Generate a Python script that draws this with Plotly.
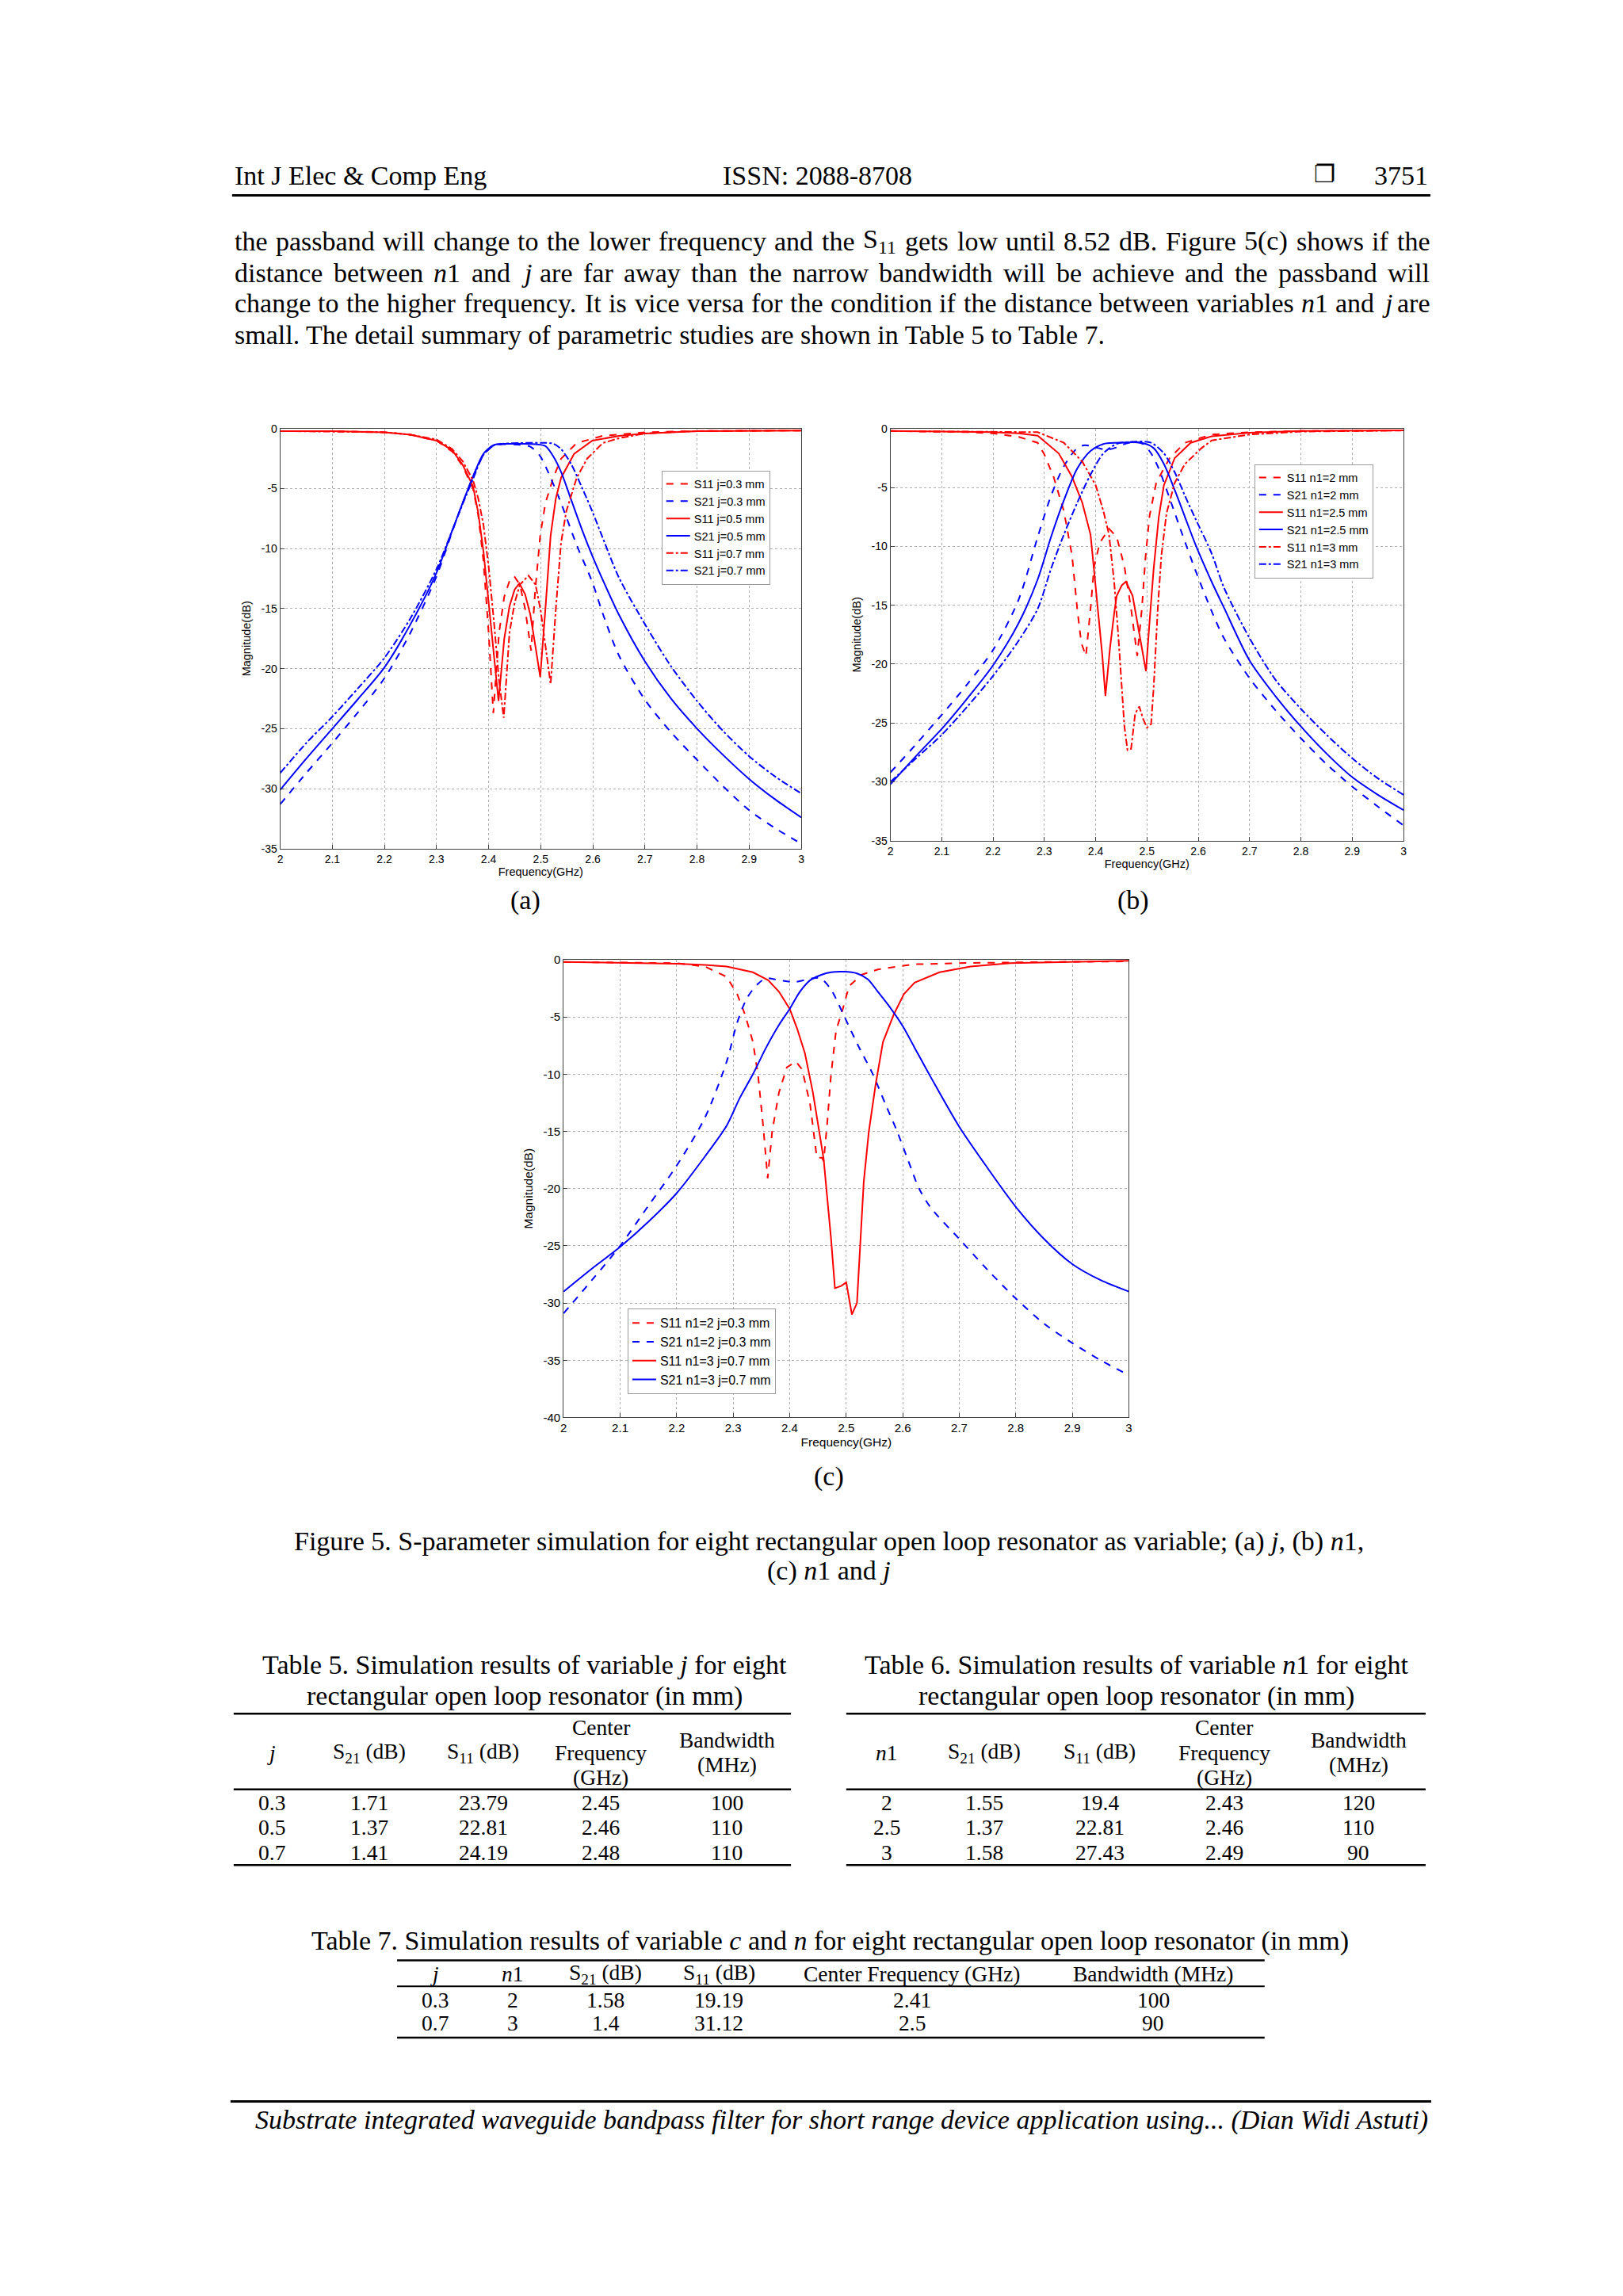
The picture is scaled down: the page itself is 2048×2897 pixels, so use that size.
import re
import plotly.graph_objects as go

W, H = 2048, 2897
SERIF = "Liberation Serif"
SANS = "Liberation Sans"

# ---------------- data: panel (a), variable j ----------------
A_S11_J03_F = [2.0, 2.1, 2.2, 2.25, 2.3, 2.33, 2.35, 2.37, 2.38, 2.39, 2.40, 2.409, 2.42, 2.43, 2.44, 2.449, 2.46, 2.47, 2.4815, 2.489, 2.499, 2.509, 2.524, 2.539, 2.569, 2.619, 2.7, 2.8, 3.0]
A_S11_J03_DB = [-0.2, -0.2, -0.3, -0.5, -1.0, -1.9, -3.1, -5.0, -7.2, -11.0, -17.0, -23.7, -17.0, -14.0, -12.7, -12.3, -13.0, -15.0, -18.5, -13.7, -8.9, -6.2, -4.1, -2.5, -1.2, -0.6, -0.3, -0.2, -0.15]

A_S11_J05_F = [2.0, 2.1, 2.2, 2.25, 2.3, 2.33, 2.35, 2.37, 2.38, 2.39, 2.40, 2.41, 2.419, 2.43, 2.44, 2.45, 2.459, 2.47, 2.48, 2.49, 2.499, 2.509, 2.519, 2.529, 2.539, 2.564, 2.599, 2.65, 2.7, 2.8, 3.0]
A_S11_J05_DB = [-0.2, -0.2, -0.3, -0.5, -1.0, -1.8, -3.0, -4.8, -7.0, -10.2, -14.5, -19.0, -22.7, -17.5, -14.8, -13.4, -12.9, -13.8, -15.5, -18.2, -20.7, -15.0, -8.9, -5.8, -4.1, -2.1, -1.0, -0.6, -0.4, -0.2, -0.15]

A_S11_J07_F = [2.0, 2.2, 2.25, 2.3, 2.33, 2.35, 2.37, 2.38, 2.39, 2.40, 2.41, 2.42, 2.429, 2.44, 2.45, 2.46, 2.4765, 2.49, 2.50, 2.51, 2.519, 2.529, 2.539, 2.549, 2.569, 2.589, 2.619, 2.65, 2.7, 2.8, 3.0]
A_S11_J07_DB = [-0.2, -0.3, -0.5, -0.9, -1.7, -2.7, -4.3, -5.8, -8.0, -11.5, -16.0, -21.0, -24.1, -17.0, -14.5, -13.0, -12.25, -13.0, -15.2, -18.5, -21.3, -15.0, -9.5, -6.9, -4.1, -2.5, -1.2, -0.8, -0.4, -0.2, -0.15]

A_S21_J03_F = [2.0, 2.05, 2.1, 2.15, 2.2, 2.25, 2.3, 2.33, 2.35, 2.37, 2.39, 2.41, 2.43, 2.46, 2.48, 2.499, 2.519, 2.539, 2.569, 2.599, 2.619, 2.65, 2.7, 2.75, 2.8, 2.85, 2.9, 2.95, 3.0]
A_S21_J03_DB = [-31.3, -28.7, -26.2, -23.6, -20.8, -17.0, -12.3, -8.6, -6.2, -4.0, -2.2, -1.4, -1.3, -1.35, -1.5, -2.3, -4.1, -6.2, -9.7, -12.8, -15.4, -18.9, -22.6, -25.3, -27.6, -29.8, -31.8, -33.3, -34.6]

A_S21_J05_F = [2.0, 2.05, 2.1, 2.15, 2.2, 2.25, 2.3, 2.33, 2.35, 2.37, 2.39, 2.41, 2.43, 2.46, 2.49, 2.509, 2.524, 2.539, 2.559, 2.579, 2.599, 2.619, 2.65, 2.7, 2.75, 2.8, 2.85, 2.9, 2.95, 3.0]
A_S21_J05_DB = [-30.1, -27.5, -25.0, -22.5, -19.9, -16.3, -12.0, -8.5, -6.2, -4.0, -2.1, -1.35, -1.27, -1.27, -1.3, -1.45, -2.3, -3.6, -6.0, -8.4, -10.6, -12.6, -15.5, -19.4, -22.5, -25.0, -27.2, -29.2, -30.9, -32.4]

A_S21_J07_F = [2.0, 2.05, 2.1, 2.15, 2.2, 2.25, 2.3, 2.33, 2.35, 2.37, 2.39, 2.41, 2.43, 2.46, 2.5, 2.524, 2.539, 2.559, 2.579, 2.599, 2.619, 2.65, 2.7, 2.75, 2.8, 2.85, 2.9, 2.95, 3.0]
A_S21_J07_DB = [-28.7, -26.2, -24.0, -21.6, -19.1, -15.8, -11.7, -8.5, -6.3, -4.2, -2.2, -1.4, -1.25, -1.2, -1.18, -1.25, -1.7, -3.0, -4.9, -6.9, -9.1, -12.4, -16.3, -19.8, -22.7, -25.2, -27.3, -29.0, -30.4]

# ---------------- data: panel (b), variable n1 ----------------
B_S11_N2_F = [2.0, 2.15, 2.2, 2.25, 2.287, 2.3, 2.318, 2.338, 2.354, 2.364, 2.372, 2.381, 2.39, 2.397, 2.408, 2.426, 2.441, 2.456, 2.469, 2.477, 2.481, 2.49, 2.497, 2.505, 2.518, 2.544, 2.574, 2.626, 2.7, 2.8, 3.0]
B_S11_N2_DB = [-0.2, -0.3, -0.4, -0.7, -1.2, -2.2, -4.1, -7.0, -10.8, -15.3, -18.2, -19.3, -15.3, -11.7, -9.7, -8.5, -9.2, -11.7, -15.3, -17.9, -19.3, -15.3, -11.0, -7.4, -4.6, -2.5, -1.2, -0.5, -0.3, -0.2, -0.15]

B_S11_N25_F = [2.0, 2.2, 2.25, 2.287, 2.328, 2.354, 2.374, 2.39, 2.397, 2.405, 2.413, 2.419, 2.428, 2.436, 2.441, 2.451, 2.459, 2.472, 2.482, 2.49, 2.498, 2.505, 2.513, 2.523, 2.533, 2.554, 2.585, 2.626, 2.7, 2.8, 3.0]
B_S11_N25_DB = [-0.2, -0.3, -0.4, -0.6, -2.1, -4.1, -6.3, -9.0, -12.1, -15.7, -19.3, -22.7, -18.6, -15.7, -14.2, -13.3, -13.0, -14.2, -16.6, -18.8, -20.6, -16.4, -11.9, -7.5, -4.8, -2.5, -1.2, -0.65, -0.35, -0.2, -0.15]

B_S11_N3_F = [2.0, 2.2, 2.287, 2.338, 2.374, 2.4, 2.415, 2.426, 2.436, 2.444, 2.451, 2.456, 2.462, 2.469, 2.477, 2.485, 2.492, 2.5, 2.508, 2.513, 2.521, 2.528, 2.538, 2.554, 2.574, 2.605, 2.626, 2.7, 2.8, 3.0]
B_S11_N3_DB = [-0.2, -0.25, -0.3, -1.2, -2.8, -4.8, -7.0, -9.0, -13.0, -17.5, -22.0, -25.3, -27.3, -27.2, -24.2, -23.6, -24.6, -25.4, -25.1, -22.0, -15.3, -10.8, -7.2, -4.6, -3.0, -1.7, -1.0, -0.5, -0.25, -0.15]

B_S21_N2_F = [2.0, 2.05, 2.1, 2.15, 2.2, 2.25, 2.287, 2.313, 2.338, 2.364, 2.379, 2.405, 2.421, 2.44, 2.456, 2.477, 2.492, 2.508, 2.523, 2.544, 2.569, 2.595, 2.626, 2.65, 2.7, 2.75, 2.8, 2.85, 2.9, 2.95, 3.0]
B_S21_N2_DB = [-29.2, -26.8, -24.3, -21.7, -18.8, -14.5, -9.2, -5.7, -3.2, -1.65, -1.4, -1.65, -1.8, -1.6, -1.3, -1.15, -1.3, -2.1, -3.4, -5.9, -9.0, -12.1, -15.5, -17.8, -21.2, -23.9, -26.3, -28.5, -30.4, -32.1, -33.7]

B_S21_N25_F = [2.0, 2.05, 2.1, 2.15, 2.2, 2.25, 2.287, 2.313, 2.338, 2.364, 2.39, 2.415, 2.44, 2.49, 2.513, 2.533, 2.554, 2.574, 2.595, 2.626, 2.65, 2.7, 2.75, 2.8, 2.85, 2.9, 2.95, 3.0]
B_S21_N25_DB = [-30.2, -27.8, -25.5, -22.9, -20.1, -16.5, -12.8, -9.2, -6.1, -3.4, -1.9, -1.3, -1.2, -1.2, -1.65, -3.0, -5.2, -7.5, -9.9, -13.0, -15.2, -19.7, -22.7, -25.3, -27.6, -29.6, -31.1, -32.4]

B_S21_N3_F = [2.0, 2.05, 2.1, 2.15, 2.2, 2.25, 2.287, 2.313, 2.338, 2.364, 2.39, 2.415, 2.441, 2.477, 2.508, 2.533, 2.554, 2.574, 2.595, 2.626, 2.65, 2.7, 2.75, 2.8, 2.85, 2.9, 2.95, 3.0]
B_S21_N3_DB = [-30.0, -28.0, -26.0, -23.6, -21.0, -18.0, -15.3, -11.9, -9.0, -6.3, -3.9, -2.1, -1.3, -1.1, -1.2, -2.1, -3.7, -5.7, -7.7, -10.6, -13.5, -17.8, -21.3, -23.8, -26.0, -28.0, -29.7, -31.1]

# ---------------- data: panel (c), n1 and j ----------------
C_S11_A_F = [2.0, 2.2, 2.25, 2.2885, 2.307, 2.321, 2.335, 2.344, 2.353, 2.361, 2.369, 2.381, 2.395, 2.411, 2.422, 2.436, 2.448, 2.457, 2.46, 2.466, 2.473, 2.482, 2.494, 2.505, 2.528, 2.556, 2.62, 2.7, 2.85, 3.0]
C_S11_A_DB = [-0.2, -0.3, -0.6, -1.5, -3.0, -4.8, -7.2, -10.1, -14.5, -19.1, -15.0, -11.6, -9.4, -8.9, -9.6, -12.6, -17.3, -17.3, -17.6, -14.5, -10.1, -6.2, -4.3, -2.3, -1.3, -0.85, -0.4, -0.3, -0.2, -0.15]

C_S11_B_F = [2.0, 2.1, 2.2, 2.25, 2.2885, 2.335, 2.362, 2.381, 2.4, 2.413, 2.427, 2.441, 2.452, 2.46, 2.466, 2.473, 2.48, 2.4915, 2.5, 2.51, 2.519, 2.524, 2.531, 2.54, 2.552, 2.565, 2.584, 2.602, 2.621, 2.665, 2.72, 2.79, 3.0]
C_S11_B_DB = [-0.2, -0.25, -0.35, -0.45, -0.6, -1.1, -1.8, -2.8, -4.3, -6.0, -8.2, -11.6, -15.0, -17.4, -20.6, -24.3, -28.7, -28.5, -28.2, -31.0, -30.0, -25.5, -19.4, -15.0, -10.9, -7.2, -4.8, -3.0, -2.0, -1.1, -0.6, -0.3, -0.1]

C_S21_A_F = [2.0, 2.05, 2.1, 2.15, 2.2, 2.25, 2.2885, 2.307, 2.325, 2.344, 2.358, 2.381, 2.408, 2.44, 2.455, 2.473, 2.497, 2.52, 2.547, 2.57, 2.59, 2.61, 2.629, 2.65, 2.7, 2.75, 2.8, 2.85, 2.9, 2.95, 3.0]
C_S21_A_DB = [-30.9, -28.0, -25.0, -21.5, -18.0, -13.8, -8.9, -5.5, -3.3, -2.1, -1.63, -1.78, -1.95, -1.63, -1.63, -2.6, -5.0, -7.4, -10.0, -12.7, -15.0, -17.6, -20.0, -21.7, -24.4, -27.1, -29.6, -31.8, -33.5, -35.0, -36.3]

C_S21_B_F = [2.0, 2.05, 2.1, 2.15, 2.2, 2.25, 2.2885, 2.3115, 2.335, 2.358, 2.381, 2.4, 2.418, 2.436, 2.455, 2.473, 2.496, 2.519, 2.538, 2.556, 2.575, 2.6, 2.62, 2.65, 2.7, 2.75, 2.8, 2.85, 2.9, 2.95, 3.0]
C_S21_B_DB = [-29.0, -27.0, -25.1, -22.9, -20.4, -17.2, -14.5, -12.1, -10.0, -7.7, -5.7, -4.3, -2.8, -1.8, -1.34, -1.1, -1.05, -1.2, -1.7, -2.8, -4.0, -5.8, -7.6, -10.3, -14.6, -18.2, -21.6, -24.4, -26.6, -28.0, -29.0]

# ---------------- axis ticks ----------------
X_TICKS = [2.0, 2.1, 2.2, 2.3, 2.4, 2.5, 2.6, 2.7, 2.8, 2.9, 3.0]
X_TICK_LABELS = ["2", "2.1", "2.2", "2.3", "2.4", "2.5", "2.6", "2.7", "2.8", "2.9", "3"]
Y_TICKS_AB = [0, -5, -10, -15, -20, -25, -30, -35]
Y_TICKS_C = [0, -5, -10, -15, -20, -25, -30, -35, -40]

# ---------------- tables ----------------
T5_HEAD = ["<i>j</i>", "S<sub>21</sub> (dB)", "S<sub>11</sub> (dB)", ["Center", "Frequency", "(GHz)"], ["Bandwidth", "(MHz)"]]
T5_ROWS = [["0.3", "1.71", "23.79", "2.45", "100"],
           ["0.5", "1.37", "22.81", "2.46", "110"],
           ["0.7", "1.41", "24.19", "2.48", "110"]]
T6_HEAD = ["<i>n</i>1", "S<sub>21</sub> (dB)", "S<sub>11</sub> (dB)", ["Center", "Frequency", "(GHz)"], ["Bandwidth", "(MHz)"]]
T6_ROWS = [["2", "1.55", "19.4", "2.43", "120"],
           ["2.5", "1.37", "22.81", "2.46", "110"],
           ["3", "1.58", "27.43", "2.49", "90"]]
T7_HEAD = ["<i>j</i>", "<i>n</i>1", "S<sub>21</sub> (dB)", "S<sub>11</sub> (dB)", "Center Frequency (GHz)", "Bandwidth (MHz)"]
T7_ROWS = [["0.3", "2", "1.58", "19.19", "2.41", "100"],
           ["0.7", "3", "1.4", "31.12", "2.5", "90"]]

BODY = ["the passband will change to the lower frequency and the S<sub>11</sub> gets low until 8.52 dB. Figure 5(c) shows if the",
        "distance between <i>n</i>1 and <i>j</i> are far away than the narrow bandwidth will be achieve and the passband will",
        "change to the higher frequency. It is vice versa for the condition if the distance between variables <i>n</i>1 and <i>j</i> are",
        "small. The detail summary of parametric studies are shown in Table 5 to Table 7."]

RED, BLUE = "#ff0000", "#0000ff"

fig = go.Figure()

def add(f, db, name, color, dash, xa, ya, leg, smooth=False):
    line = dict(color=color, dash=dash, width=2)
    if smooth:
        line.update(shape="spline", smoothing=0.8)
    fig.add_trace(go.Scatter(x=f, y=db, name=name, mode="lines", line=line,
                             xaxis=xa, yaxis=ya, legend=leg))

add(A_S11_J03_F, A_S11_J03_DB, "S11 j=0.3 mm", RED, "dash", "x", "y", "legend")
add(A_S21_J03_F, A_S21_J03_DB, "S21 j=0.3 mm", BLUE, "dash", "x", "y", "legend", True)
add(A_S11_J05_F, A_S11_J05_DB, "S11 j=0.5 mm", RED, "solid", "x", "y", "legend")
add(A_S21_J05_F, A_S21_J05_DB, "S21 j=0.5 mm", BLUE, "solid", "x", "y", "legend", True)
add(A_S11_J07_F, A_S11_J07_DB, "S11 j=0.7 mm", RED, "dashdot", "x", "y", "legend")
add(A_S21_J07_F, A_S21_J07_DB, "S21 j=0.7 mm", BLUE, "dashdot", "x", "y", "legend", True)

add(B_S11_N2_F, B_S11_N2_DB, "S11 n1=2 mm", RED, "dash", "x2", "y2", "legend2")
add(B_S21_N2_F, B_S21_N2_DB, "S21 n1=2 mm", BLUE, "dash", "x2", "y2", "legend2", True)
add(B_S11_N25_F, B_S11_N25_DB, "S11 n1=2.5 mm", RED, "solid", "x2", "y2", "legend2")
add(B_S21_N25_F, B_S21_N25_DB, "S21 n1=2.5 mm", BLUE, "solid", "x2", "y2", "legend2", True)
add(B_S11_N3_F, B_S11_N3_DB, "S11 n1=3 mm", RED, "dashdot", "x2", "y2", "legend2")
add(B_S21_N3_F, B_S21_N3_DB, "S21 n1=3 mm", BLUE, "dashdot", "x2", "y2", "legend2", True)

add(C_S11_A_F, C_S11_A_DB, "S11 n1=2 j=0.3 mm", RED, "dash", "x3", "y3", "legend3")
add(C_S21_A_F, C_S21_A_DB, "S21 n1=2 j=0.3 mm", BLUE, "dash", "x3", "y3", "legend3", True)
add(C_S11_B_F, C_S11_B_DB, "S11 n1=3 j=0.7 mm", RED, "solid", "x3", "y3", "legend3")
add(C_S21_B_F, C_S21_B_DB, "S21 n1=3 j=0.7 mm", BLUE, "solid", "x3", "y3", "legend3", True)

def px(x):
    return x / W

def py(y):
    return 1 - y / H

def xaxis(l, r, anchor, fs):
    return dict(domain=[px(l), px(r)], range=[2, 3], anchor=anchor,
                tickvals=X_TICKS, ticktext=X_TICK_LABELS,
                showgrid=True, gridcolor="#b0b0b0", griddash="dot", gridwidth=1,
                showline=True, mirror=True, linecolor="#404040", linewidth=1,
                ticks="inside", ticklen=5, tickcolor="#404040", zeroline=False,
                tickfont=dict(family=SANS, size=fs, color="black"),
                title=dict(text="Frequency(GHz)", standoff=4,
                           font=dict(family=SANS, size=fs + 0.5, color="black")))

def yaxis(b, t, anchor, fs, ticks, lo, standoff):
    return dict(domain=[py(b), py(t)], range=[lo, 0], anchor=anchor,
                tickvals=ticks, ticktext=[str(v) for v in ticks],
                showgrid=True, gridcolor="#b0b0b0", griddash="dot", gridwidth=1,
                showline=True, mirror=True, linecolor="#404040", linewidth=1,
                ticks="inside", ticklen=5, tickcolor="#404040", zeroline=False,
                tickfont=dict(family=SANS, size=fs, color="black"),
                title=dict(text="Magnitude(dB)", standoff=standoff,
                           font=dict(family=SANS, size=fs + 0.5, color="black")))

def legend(x, y, fs):
    return dict(x=px(x), y=py(y), xanchor="left", yanchor="top",
                bgcolor="white", bordercolor="#9a9a9a", borderwidth=1,
                font=dict(family=SANS, size=fs, color="black"),
                traceorder="normal", itemwidth=30)

ann = []

def txt(x, y, s, size=34, xanchor="left", family=SERIF):
    ann.append(dict(x=px(x), y=py(y), xref="paper", yref="paper", text=s,
                    showarrow=False, xanchor=xanchor, yanchor="middle",
                    borderpad=0,
                    font=dict(family=family, size=size, color="black")))

shapes = []

def rule(x0, x1, y, w=2):
    shapes.append(dict(type="line", xref="paper", yref="paper",
                       x0=px(x0), x1=px(x1), y0=py(y), y1=py(y),
                       line=dict(color="black", width=w)))

# Times (Liberation Serif) advance widths, 1/1000 em, for justified body text
TW = dict(zip("abcdefghijklmnopqrstuvwxyz",
              [444, 500, 444, 500, 444, 333, 500, 500, 278, 278, 500, 278, 778,
               500, 500, 500, 500, 333, 389, 278, 500, 500, 722, 500, 500, 444]))
TW.update(dict(zip("ABCDEFGHIJKLMNOPQRSTUVWXYZ",
                   [722, 667, 667, 722, 611, 556, 722, 722, 333, 389, 722, 611, 889,
                    722, 722, 556, 722, 667, 556, 611, 722, 722, 944, 722, 722, 611])))
TW.update({d: 500 for d in "0123456789"})
TW.update({" ": 250, ".": 250, ",": 250, "(": 333, ")": 333, "-": 333, ":": 278, ";": 278})

def word_width(word, size):
    w, scale = 0.0, 1.0
    for tok in re.split(r"(<[^>]+>)", word):
        if tok == "<sub>":
            scale = 0.7
        elif tok == "</sub>":
            scale = 1.0
        elif tok.startswith("<"):
            continue
        else:
            w += sum(TW.get(ch, 500) for ch in tok) * scale
    return w * size / 1000.0

def justified(x0, x1, y, line, size):
    words = line.split(" ")
    widths = [word_width(wd, size) for wd in words]
    gap = (x1 - x0 - sum(widths)) / (len(words) - 1)
    x = x0
    for wd, wdt in zip(words, widths):
        txt(x, y, wd, size)
        x += wdt + gap

# header
txt(292, 214, "Int J Elec &amp; Comp Eng", 34)
txt(1032, 214, "ISSN: 2088-8708", 34, "center")
txt(1674, 212, "\u2750", 30, "center", "DejaVu Sans")
txt(1806, 214, "3751", 34, "right")
rule(290, 1808, 239, 3)

# body (first three lines justified, last line left aligned)
BODY_Y = [297, 337, 376, 416]
for k, (yy, line) in enumerate(zip(BODY_Y, BODY)):
    if k < len(BODY) - 1:
        justified(292, 1806, yy, line, 34)
    else:
        txt(292, yy, line, 34)

# panel captions
txt(662, 1134, "(a)", 34, "center")
txt(1432, 1134, "(b)", 34, "center")
txt(1046, 1865, "(c)", 34, "center")

# figure caption
txt(1046, 1947, "Figure 5. S-parameter simulation for eight rectangular open loop resonator as variable; (a) <i>j</i>, (b) <i>n</i>1,", 34, "center")
txt(1046, 1985, "(c) <i>n</i>1 and <i>j</i>", 34, "center")

# table 5 and table 6
TFS = 27.5
def table56(cx, cols, head, rows, x0, x1, title_var):
    txt(cx, 2104, "Table %s for eight" % title_var, 34, "center")
    txt(cx, 2144, "rectangular open loop resonator (in mm)", 34, "center")
    rule(x0, x1, 2166, 2.5)
    rule(x0, x1, 2262, 2.5)
    rule(x0, x1, 2358, 2.5)
    for c, h in zip(cols, head):
        if isinstance(h, list):
            n = len(h)
            for k, part in enumerate(h):
                txt(c, 2215 + (k - (n - 1) / 2) * 32, part, TFS, "center")
        else:
            txt(c, 2215, h, TFS, "center")
    for r, row in enumerate(rows):
        for c, v in zip(cols, row):
            txt(c, 2279 + 31.5 * r, v, TFS, "center")

table56(661, [340, 464, 608, 757, 917], T5_HEAD, T5_ROWS, 292, 998,
        "5. Simulation results of variable <i>j</i>")
table56(1436, [1119, 1243, 1389, 1547, 1717], T6_HEAD, T6_ROWS, 1068, 1802,
        "6. Simulation results of variable <i>n</i>1")

# table 7
txt(1048, 2454, "Table 7. Simulation results of variable <i>c</i> and <i>n</i> for eight rectangular open loop resonator (in mm)", 34, "center")
rule(499, 1598, 2479, 2.5)
rule(499, 1598, 2512, 2)
rule(499, 1598, 2577, 2.5)
T7_COLS = [547, 646, 763, 907, 1151, 1457]
for c, h in zip(T7_COLS, T7_HEAD):
    txt(c, 2496, h, TFS, "center")
for r, row in enumerate(T7_ROWS):
    for c, v in zip(T7_COLS, row):
        txt(c, 2529 + 30 * r, v, TFS, "center")

# footer
rule(288, 1809, 2658, 3)
txt(1806, 2682, "<i>Substrate integrated waveguide bandpass filter for short range device application using... (Dian Widi Astuti)</i>", 34, "right")

fig.update_layout(
    width=W, height=H, margin=dict(l=0, r=0, t=0, b=0),
    paper_bgcolor="white", plot_bgcolor="white", showlegend=True,
    xaxis=xaxis(351, 1011, "y", 14),
    yaxis=yaxis(1068, 535, "x", 14, Y_TICKS_AB, -35, 9),
    xaxis2=xaxis(1124, 1774, "y2", 14),
    yaxis2=yaxis(1058, 535, "x2", 14, Y_TICKS_AB, -35, 9),
    xaxis3=xaxis(710, 1426, "y3", 15),
    yaxis3=yaxis(1790, 1209, "x3", 15, Y_TICKS_C, -40, 9),
    legend=legend(834, 588, 14.5),
    legend2=legend(1585, 580, 14.5),
    legend3=legend(791, 1652, 16),
    annotations=ann, shapes=shapes,
)

fig.write_html("out.html", config={"displayModeBar": False},
               post_script="document.body.style.margin='0';")
